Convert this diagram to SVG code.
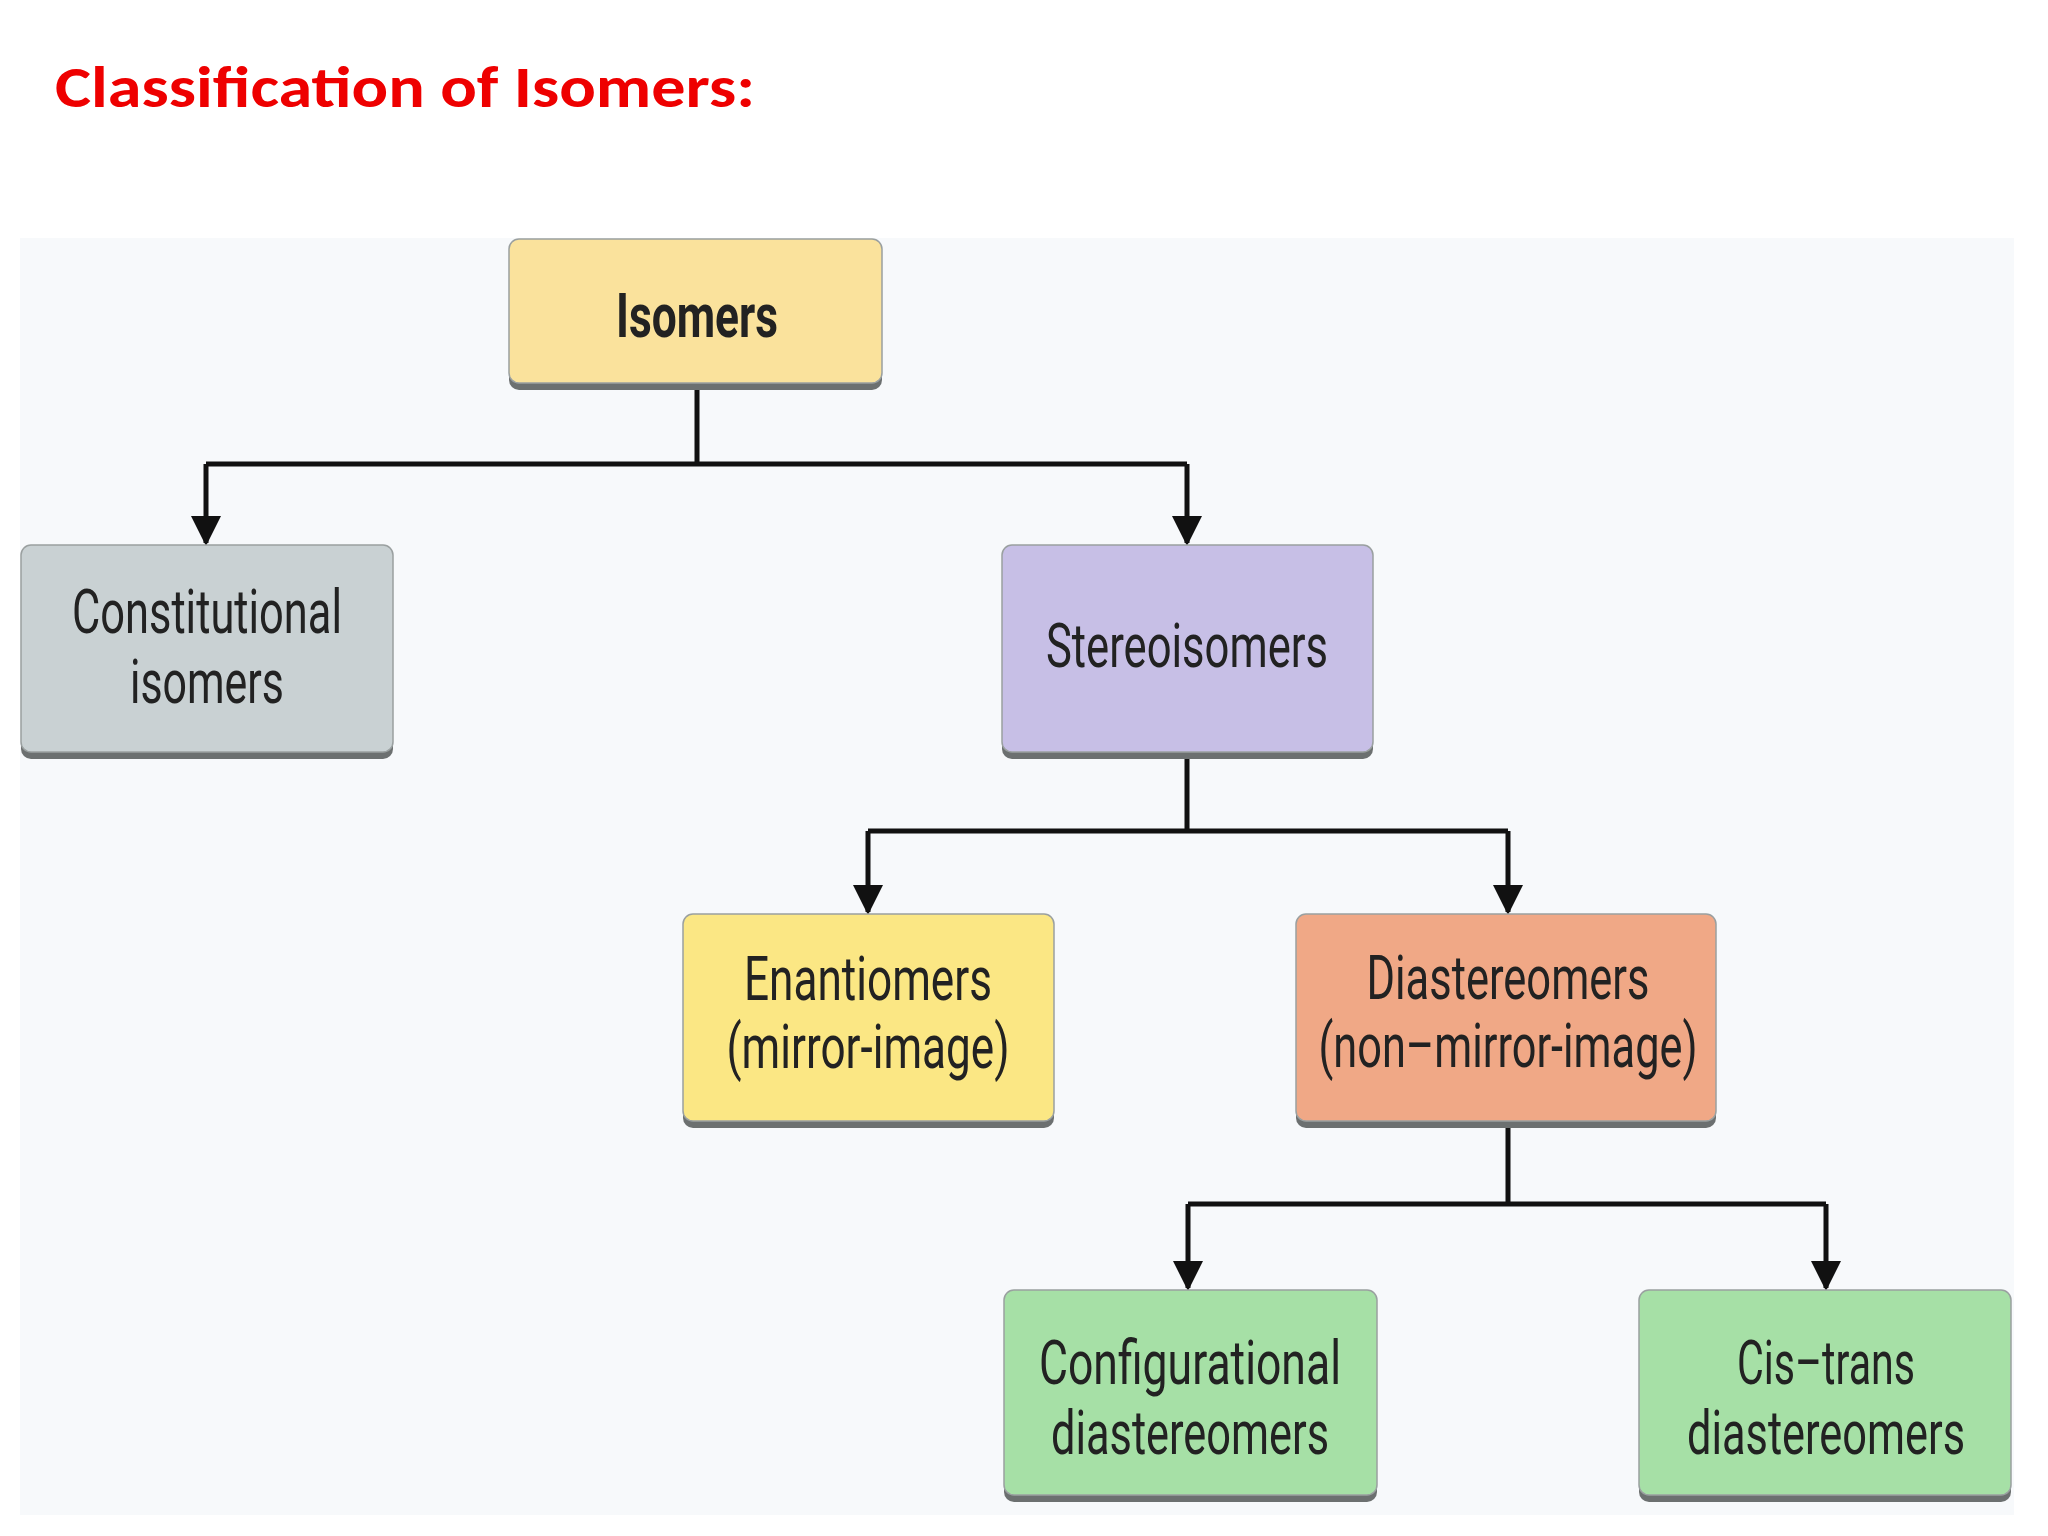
<svg xmlns="http://www.w3.org/2000/svg" width="2048" height="1536" viewBox="0 0 2048 1536">
<defs>
<marker id="ah" viewBox="0 0 10 10" refX="9" refY="5" markerWidth="6" markerHeight="6" orient="auto" markerUnits="strokeWidth"><path d="M0,0 L10,5 L0,10 z" fill="#111"/></marker>
</defs>
<style>
.sh{fill:#6c7070}
.box{stroke:#9aa0a0;stroke-width:1.5}
.t{font-family:Roboto,"Liberation Sans",sans-serif;font-size:62px;fill:#222;text-anchor:middle}
.c{fill:none;stroke:#111;stroke-width:5}
</style>
<rect width="2048" height="1536" fill="#ffffff"/>
<rect x="20" y="238" width="1994" height="1277" fill="#f7f9fb"/>
<text x="55" y="107" font-family="Carlito,'Liberation Sans',sans-serif" font-weight="bold" font-size="58" fill="#ee0000" textLength="700" lengthAdjust="spacingAndGlyphs">Classification of Isomers:</text>
<g id="connectors">
<path class="c" d="M697,385 V464 M206,464 H1187 M1187,464 V543" marker-end="url(#ah)"/>
<path class="c" d="M206,464 V543" marker-end="url(#ah)"/>
<path class="c" d="M1187,754 V831 M868,831 H1508 M1508,831 V912" marker-end="url(#ah)"/>
<path class="c" d="M868,831 V912" marker-end="url(#ah)"/>
<path class="c" d="M1508,1123 V1204 M1188,1204 H1826 M1826,1204 V1288" marker-end="url(#ah)"/>
<path class="c" d="M1188,1204 V1288" marker-end="url(#ah)"/>
</g>
<g id="isomers"><rect class="sh" x="509" y="244" width="373" height="146" rx="10"/><rect class="box" x="509" y="239" width="373" height="144" rx="10" fill="#fae29c"/><text class="t" x="697" y="337" font-weight="bold" textLength="162" lengthAdjust="spacingAndGlyphs">Isomers</text></g>
<g id="constitutional"><rect class="sh" x="21" y="550" width="372" height="209" rx="10"/><rect class="box" x="21" y="545" width="372" height="207" rx="10" fill="#c9d1d3"/><text class="t" x="207" y="633" textLength="270" lengthAdjust="spacingAndGlyphs">Constitutional</text><text class="t" x="207" y="703" textLength="154" lengthAdjust="spacingAndGlyphs">isomers</text></g>
<g id="stereoisomers"><rect class="sh" x="1002" y="550" width="371" height="209" rx="10"/><rect class="box" x="1002" y="545" width="371" height="207" rx="10" fill="#c7bfe6"/><text class="t" x="1187" y="667" textLength="282" lengthAdjust="spacingAndGlyphs">Stereoisomers</text></g>
<g id="enantiomers"><rect class="sh" x="683" y="919" width="371" height="209" rx="10"/><rect class="box" x="683" y="914" width="371" height="207" rx="10" fill="#fbe784"/><text class="t" x="868" y="1000" textLength="248" lengthAdjust="spacingAndGlyphs">Enantiomers</text><text class="t" x="868" y="1068" textLength="283" lengthAdjust="spacingAndGlyphs">(mirror-image)</text></g>
<g id="diastereomers"><rect class="sh" x="1296" y="919" width="420" height="209" rx="10"/><rect class="box" x="1296" y="914" width="420" height="207" rx="10" fill="#f0a886"/><text class="t" x="1508" y="999" textLength="283" lengthAdjust="spacingAndGlyphs">Diastereomers</text><text class="t" x="1508" y="1067" textLength="379" lengthAdjust="spacingAndGlyphs">(non–mirror-image)</text></g>
<g id="configurational"><rect class="sh" x="1004" y="1295" width="373" height="207" rx="10"/><rect class="box" x="1004" y="1290" width="373" height="205" rx="10" fill="#a6e0a6"/><text class="t" x="1190" y="1384" textLength="302" lengthAdjust="spacingAndGlyphs">Configurational</text><text class="t" x="1190" y="1454" textLength="278" lengthAdjust="spacingAndGlyphs">diastereomers</text></g>
<g id="cistrans"><rect class="sh" x="1639" y="1295" width="372" height="207" rx="10"/><rect class="box" x="1639" y="1290" width="372" height="205" rx="10" fill="#a6e0a6"/><text class="t" x="1826" y="1384" textLength="178" lengthAdjust="spacingAndGlyphs">Cis–trans</text><text class="t" x="1826" y="1454" textLength="278" lengthAdjust="spacingAndGlyphs">diastereomers</text></g>
</svg>
